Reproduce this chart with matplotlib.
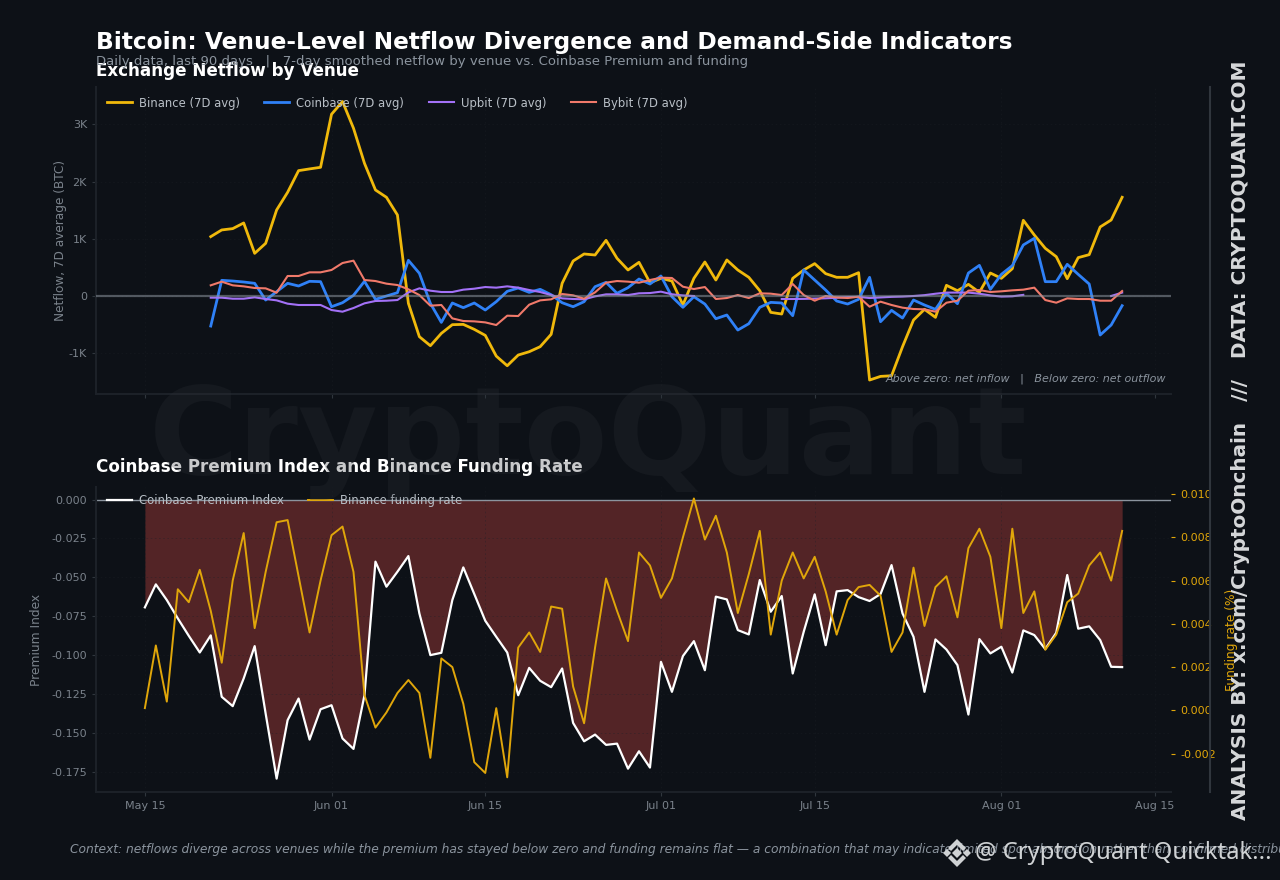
import matplotlib
matplotlib.use("Agg")
import matplotlib.pyplot as plt
import matplotlib.dates as mdates
from matplotlib.patches import Polygon
from matplotlib.ticker import FuncFormatter
import numpy as np
import pandas as pd

dates = pd.date_range("2025-05-15", periods=90, freq="D")
tick_dates = ["2025-05-15", "2025-06-01", "2025-06-15", "2025-07-01", "2025-07-15", "2025-08-01", "2025-08-15"]

n = None
binance = [n, n, n, n, n, n,
    1038, 1155, 1178, 1277, 746, 921, 1504, 1813, 2192, 2222, 2250, 3178, 3400, 2933,
    2320, 1854, 1726, 1417, -128, -711, -869, -653, -501, -496, -583, -688, -1050, -1219, -1032,
    -974, -886, -670, 222, 612, 735, 717, 974, 659, 455, 589, 233, 309, 262, -157,
    309, 595, 280, 630, 455, 327, 93, -286, -315, 309, 455, 566, 391, 327, 327,
    408, -1469, -1405, -1394, -886, -420, -233, -373, 187, 93, 204, 64, 402, 309, 478,
    1324, 1067, 834, 688, 303, 671, 723, 1207, 1329, 1726]
coinbase = [n, n, n, n, n, n,
    -525, 274, 262, 245, 222, -70, 76, 222, 175, 257, 251, -187, -117, 12,
    257, -58, 0, 58, 624, 397, -128, -461, -122, -204, -122, -245, -99, 82, 140,
    64, 117, 23, -117, -187, -99, 163, 239, 47, 146, 297, 210, 350, -12, -198,
    -12, -140, -397, -332, -595, -484, -198, -111, -122, -344, 455, 280, 105, -87, -140,
    -58, 327, -449, -251, -385, -70, -157, -233, 47, -134, 402, 536, 117, 379, 531,
    892, 1009, 251, 251, 554, 379, 210, -682, -507, -169]
upbit = [n, n, n, n, n, n,
    -29, -29, -47, -47, -23, -52, -76, -134, -157, -157, -157, -245, -274, -210,
    -128, -87, -82, -70, 64, 134, 93, 70, 70, 111, 128, 157, 146, 169, 146,
    105, 70, 17, -41, -52, -58, -6, 29, 29, 17, 47, 52, 76, 30, 10,
    0, n, n, n, n, n, n, n, -52, -52, -50, -45, -40, -30, -20,
    -15, -35, -25, -15, -10, 0, 15, 40, 60, 60, 60, 40, 10, -10, -5,
    20, n, n, n, n, n, n, n, 0, 60]
bybit = [n, n, n, n, n, n,
    187, 251, 187, 169, 140, 134, 58, 350, 350, 414, 414, 455, 577, 618,
    280, 262, 216, 192, 117, 17, -169, -157, -391, -437, -443, -461, -507, -344, -350,
    -152, -76, -58, 35, 12, -47, 64, 233, 262, 251, 233, 280, 320, 315, 163,
    122, 157, -52, -35, 17, -35, 47, 41, 17, 210, 17, -82, 0, -23, -35,
    -12, -187, -99, -157, -204, -227, -233, -274, -117, -82, 93, 105, 70, 82, 99,
    111, 146, -70, -117, -41, -52, -52, -82, -82, 87]

premium = [-0.0693, -0.0545, -0.0646, -0.0764, -0.0876, -0.0983, -0.0873, -0.1268, -0.1328, -0.115,
    -0.0942, -0.1376, -0.1794, -0.1418, -0.1279, -0.1543, -0.1348, -0.1322, -0.1536, -0.1603,
    -0.1258, -0.0399, -0.056, -0.0464, -0.0363, -0.0732, -0.1, -0.0985, -0.0646, -0.0436,
    -0.0607, -0.0779, -0.0882, -0.0983, -0.1258, -0.1082, -0.1165, -0.1206, -0.1086, -0.1436,
    -0.1554, -0.1511, -0.1577, -0.1569, -0.173, -0.1618, -0.1723, -0.1043, -0.1236, -0.1006,
    -0.091, -0.1097, -0.0624, -0.0642, -0.0839, -0.0867, -0.0517, -0.0721, -0.062, -0.1118,
    -0.085, -0.0609, -0.0936, -0.059, -0.0582, -0.0627, -0.0652, -0.0607, -0.0421, -0.0732,
    -0.0882, -0.1236, -0.0899, -0.0964, -0.1064, -0.1382, -0.0897, -0.0989, -0.0946, -0.1112,
    -0.0841, -0.0871, -0.0961, -0.0856, -0.0485, -0.083, -0.0815, -0.0903, -0.1075, -0.1077]
funding = [0.0001, 0.0030, 0.0004, 0.0056, 0.0050, 0.0065, 0.0046, 0.0022, 0.0060, 0.0082,
    0.0038, 0.0064, 0.0087, 0.0088, 0.0062, 0.0036, 0.0060, 0.0081, 0.0085, 0.0064,
    0.0007, -0.0008, -0.0001, 0.0008, 0.0014, 0.0008, -0.0022, 0.0024, 0.0020, 0.0003,
    -0.0024, -0.0029, 0.0001, -0.0031, 0.0029, 0.0036, 0.0027, 0.0048, 0.0047, 0.0011,
    -0.0006, 0.0029, 0.0061, 0.0046, 0.0032, 0.0073, 0.0067, 0.0052, 0.0061, 0.0080,
    0.0098, 0.0079, 0.0090, 0.0073, 0.0045, 0.0063, 0.0083, 0.0035, 0.0060, 0.0073,
    0.0061, 0.0071, 0.0055, 0.0035, 0.0051, 0.0057, 0.0058, 0.0053, 0.0027, 0.0036,
    0.0066, 0.0039, 0.0057, 0.0062, 0.0043, 0.0075, 0.0084, 0.0071, 0.0038, 0.0084,
    0.0045, 0.0055, 0.0028, 0.0035, 0.0050, 0.0054, 0.0067, 0.0073, 0.0060, 0.0083]

netflow_ticks = [-1000, 0, 1000, 2000, 3000]
premium_ticks = [-0.175, -0.15, -0.125, -0.1, -0.075, -0.05, -0.025, 0]
funding_ticks = [-0.002, 0, 0.002, 0.004, 0.006, 0.008, 0.010]

BG = "#0d1117"
W, H = 1280, 880
GRID = "#1c2128"
SPINE = "#1c2128"
TICK = "#7a828b"
TEXT2 = "#8b949e"
FUND = "#e0a60a"


def box(left, top, right, bottom):
    return [left / W, 1 - bottom / H, (right - left) / W, (bottom - top) / H]


def nums(values):
    return np.array([np.nan if v is None else v for v in values], dtype=float)


def style(ax):
    ax.set_facecolor("none")
    for s in ["top", "right"]:
        ax.spines[s].set_visible(False)
    for s in ["left", "bottom"]:
        ax.spines[s].set_color(SPINE)
        ax.spines[s].set_linewidth(1.5)
    ax.grid(True, color=GRID, linewidth=0.6, linestyle=(0, (2, 3)), alpha=0.4)
    ax.tick_params(colors=TICK, labelsize=8, length=3, color="#30363d", width=0.8)
    ax.set_xticks(pd.to_datetime(tick_dates))
    ax.xaxis.set_major_formatter(mdates.DateFormatter("%b %d"))
    ax.set_xlim(dates[0] - pd.Timedelta(days=4.45), dates[-1] + pd.Timedelta(days=4.45))


fig = plt.figure(figsize=(12.8, 8.8), dpi=100, facecolor=BG)
legend_kw = dict(loc="upper left", frameon=False, fontsize=8.4, labelcolor="#b8bfc6", handlelength=2.15,
                 handletextpad=0.6, columnspacing=2.1, borderaxespad=0.5)

# top panel
ax1 = fig.add_axes(box(96, 87, 1171, 394))
style(ax1)
ax1.plot(dates, nums(binance), color="#f0b90b", lw=2.0, label="Binance (7D avg)")
ax1.plot(dates, nums(coinbase), color="#2f81f7", lw=2.0, label="Coinbase (7D avg)")
ax1.plot(dates, nums(upbit), color="#a371f7", lw=1.5, label="Upbit (7D avg)")
ax1.plot(dates, nums(bybit), color="#f0796a", lw=1.5, label="Bybit (7D avg)")
ax1.axhline(0, color="#8b949e", lw=1.6, alpha=0.55, zorder=5)
ax1.set_ylim(-1713, 3654)
ax1.set_yticks(netflow_ticks)
ax1.yaxis.set_major_formatter(FuncFormatter(lambda v, p: "0" if v == 0 else f"{v / 1000:.0f}K"))
ax1.tick_params(axis="x", labelbottom=False)
ax1.set_ylabel("Netflow, 7D average (BTC)", color=TICK, fontsize=8.7, labelpad=1)
ax1.legend(ncol=4, bbox_to_anchor=(0.0, 1.003), **legend_kw)
ax1.text(0.995, 0.05, "Above zero: net inflow   |   Below zero: net outflow", transform=ax1.transAxes,
         ha="right", va="center", fontsize=8, style="italic", color=TEXT2)
ax1.set_title("Exchange Netflow by Venue", loc="left", color="white", fontsize=12.03,
              fontweight="bold", pad=8)

# bottom panel
ax2 = fig.add_axes(box(96, 487, 1171, 792))
style(ax2)
prem = nums(premium)
ax2.fill_between(dates, prem, 0, color="#f85149", alpha=0.3, linewidth=0)
ax2.axhline(0, color="#8b949e", lw=1.0)
l1, = ax2.plot(dates, prem, color="white", lw=1.6, label="Coinbase Premium Index", zorder=4)
ax2.set_ylim(-0.188, 0.0081)
ax2.set_yticks(premium_ticks)
ax2.yaxis.set_major_formatter(FuncFormatter(lambda v, p: f"{v:.3f}"))
ax2.set_ylabel("Premium Index", color=TICK, fontsize=8.8, labelpad=6)
ax2.set_title("Coinbase Premium Index and Binance Funding Rate", loc="left", color="white",
              fontsize=12.08, fontweight="bold", pad=11)

ax3 = ax2.twinx()
ax3.set_facecolor("none")
for s in ax3.spines.values():
    s.set_visible(False)
l2, = ax3.plot(dates, nums(funding), color=FUND, lw=1.4, label="Binance funding rate")
ax3.set_ylim(-0.00378, 0.01033)
ax3.set_yticks(funding_ticks)
ax3.yaxis.set_major_formatter(FuncFormatter(lambda v, p: f"{v:.3f}"))
ax3.tick_params(axis="y", colors=FUND, labelsize=8, length=3, width=0.8)
ax3.set_ylabel("Funding rate (%)", color=FUND, fontsize=8.8, labelpad=6.5)
ax3.legend([l1, l2], [l1.get_label(), l2.get_label()], ncol=2, bbox_to_anchor=(0.0, 1.01), **legend_kw)

# headings and footer
fig.text(96 / W, 1 - 42 / H, "Bitcoin: Venue-Level Netflow Divergence and Demand-Side Indicators",
         color="white", fontsize=16.78, fontweight="bold", va="center")
fig.text(96 / W, 1 - 62 / H,
         "Daily data, last 90 days   |   7-day smoothed netflow by venue vs. Coinbase Premium and funding",
         color=TEXT2, fontsize=9.55, va="center")
fig.text(70 / W, 1 - 849 / H,
         "Context: netflows diverge across venues while the premium has stayed below zero and funding remains flat"
         " \u2014 a combination that may indicate limited spot absorption rather than confirmed distribution.",
         color=TEXT2, fontsize=8.8, style="italic", va="center")

# side credit
fig.add_artist(plt.Line2D([1210 / W, 1210 / W], [1 - 87 / H, 1 - 792 / H], color="#30363d", lw=1.5))
fig.text(1241 / W, 1 - 440 / H, "ANALYSIS BY: x.com/CryptoOnchain   ///   DATA: CRYPTOQUANT.COM",
         rotation=90, color="#d6d8da", fontsize=14.4, fontweight="bold", ha="center", va="center")

# watermark goes over the panels
fig.text(588 / W, 1 - 441 / H, "CryptoQuant", color="#2c3036", alpha=0.26, fontsize=88,
         fontweight="bold", ha="center", va="center", zorder=10)

# quicktake badge
logo = "#cfd2d4"
cx, cy = 957, 853
pieces = [
    [(0, -5), (5, 0), (0, 5), (-5, 0)],
    [(-14, 0), (-10, -4), (-6, 0), (-10, 4)],
    [(14, 0), (10, -4), (6, 0), (10, 4)],
    [(0, -14), (9, -5), (6, -2), (0, -8), (-6, -2), (-9, -5)],
    [(0, 14), (9, 5), (6, 2), (0, 8), (-6, 2), (-9, 5)],
]
for p in pieces:
    fig.add_artist(Polygon([((cx + a) / W, 1 - (cy + b) / H) for a, b in p], closed=True, facecolor=logo,
                           edgecolor="none", transform=fig.transFigure, zorder=11))
fig.text(975 / W, 1 - 853 / H, "@ CryptoQuant Quicktak...", color=logo, fontsize=17.15, family="Noto Sans",
         va="center", zorder=11)

fig.savefig("out.png", dpi=100, facecolor=BG)
